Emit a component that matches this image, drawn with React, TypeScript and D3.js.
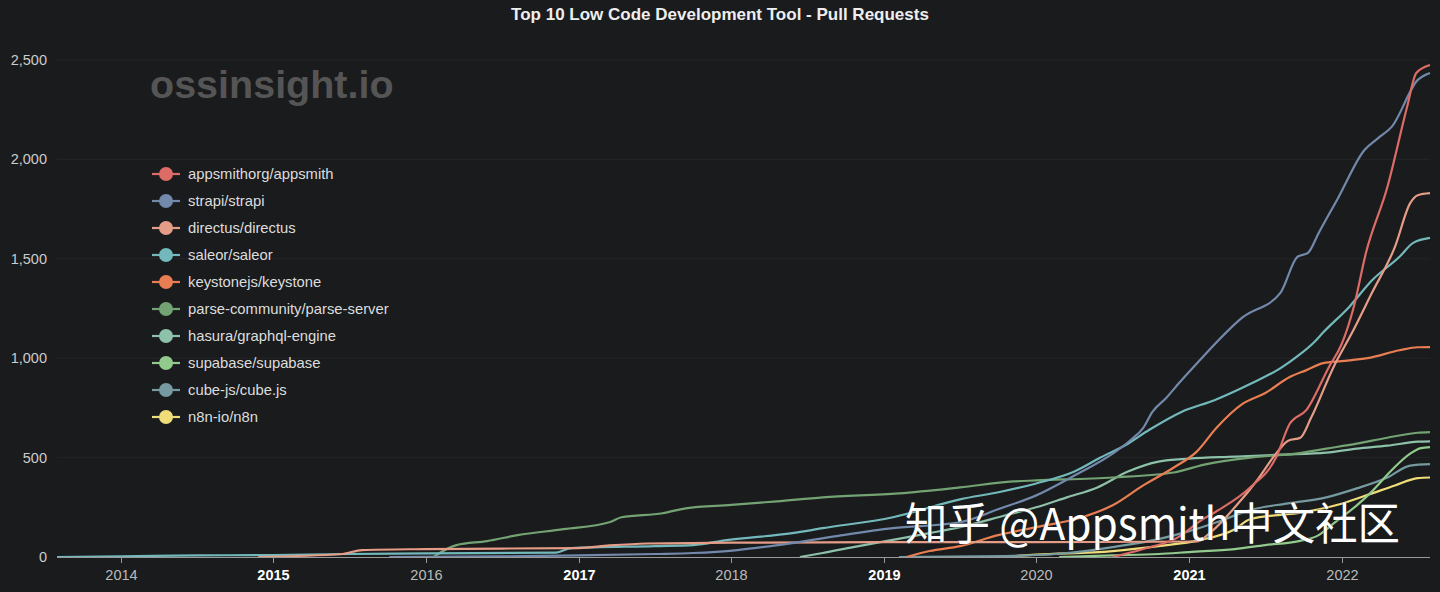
import React from "react";
import * as d3 from "d3";

const W = 1440;
const H = 592;

const TITLE = "Top 10 Low Code Development Tool - Pull Requests";
const REPOS = [
  "appsmithorg/appsmith",
  "strapi/strapi",
  "directus/directus",
  "saleor/saleor",
  "keystonejs/keystone",
  "parse-community/parse-server",
  "hasura/graphql-engine",
  "supabase/supabase",
  "cube-js/cube.js",
  "n8n-io/n8n",
];
const COLORS = ["#dd6b66", "#7289ab", "#e69d87", "#73b9bc", "#ea7e53", "#73a373", "#8dc1a9", "#91ca8c", "#759aa0", "#eedd78"];
const Y_TICKS = [0, 500, 1000, 1500, 2000, 2500];
const X_TICKS = [2014, 2015, 2016, 2017, 2018, 2019, 2020, 2021, 2022];
const BOLD_YEARS = [2015, 2017, 2019, 2021];

// [decimal year, cumulative PRs]
const appsmith: [number, number][] = [
  [2020.5, 0], [2020.7, 40], [2020.93, 100], [2021.07, 180], [2021.18, 230], [2021.4, 350], [2021.57, 500],
  [2021.66, 670], [2021.77, 740], [2021.92, 960], [2022.0, 1070], [2022.08, 1258], [2022.16, 1530],
  [2022.3, 1860], [2022.43, 2265], [2022.49, 2435], [2022.58, 2475],
];
const strapi: [number, number][] = [
  [2015.76, 0], [2016.5, 3], [2017.0, 8], [2017.5, 15], [2017.75, 20], [2018.04, 35], [2018.4, 70],
  [2018.73, 110], [2019.06, 145], [2019.5, 175], [2019.75, 240], [2020.0, 310], [2020.25, 410],
  [2020.5, 520], [2020.62, 590], [2020.7, 650], [2020.76, 730], [2020.85, 800], [2020.94, 880],
  [2021.07, 990], [2021.35, 1205], [2021.6, 1330], [2021.71, 1510], [2021.78, 1530], [2021.85, 1630],
  [2021.98, 1810], [2022.15, 2047], [2022.24, 2107], [2022.33, 2165], [2022.5, 2400], [2022.58, 2435],
];
const directus: [number, number][] = [
  [2014.9, 0], [2015.45, 15], [2015.58, 35], [2016.0, 40], [2017.0, 45], [2017.2, 58], [2017.45, 68],
  [2018.0, 72], [2019.0, 75], [2020.0, 75], [2021.05, 78], [2021.15, 130], [2021.3, 250], [2021.45, 390],
  [2021.57, 520], [2021.65, 585], [2021.73, 600], [2021.8, 700], [2021.95, 960], [2022.07, 1130],
  [2022.2, 1330], [2022.35, 1560], [2022.45, 1780], [2022.5, 1820], [2022.58, 1830],
];
const saleor: [number, number][] = [
  [2013.58, 0], [2014.0, 3], [2014.5, 8], [2015.0, 10], [2015.5, 15], [2016.0, 18], [2016.85, 22],
  [2016.95, 45], [2017.5, 55], [2017.75, 60], [2017.97, 85], [2018.4, 120], [2018.6, 145], [2019.06, 200],
  [2019.5, 290], [2019.76, 327], [2020.0, 370], [2020.25, 430], [2020.42, 500], [2020.6, 570],
  [2020.74, 640], [2020.95, 730], [2021.17, 790], [2021.4, 870], [2021.6, 950], [2021.72, 1015],
  [2021.82, 1080], [2021.88, 1130], [2022.05, 1258], [2022.2, 1392], [2022.38, 1510], [2022.47, 1580],
  [2022.58, 1605],
];
const keystone: [number, number][] = [
  [2019.15, 0], [2019.3, 30], [2019.5, 55], [2019.75, 110], [2020.0, 150], [2020.3, 200], [2020.5, 260],
  [2020.7, 360], [2020.9, 450], [2021.05, 530], [2021.18, 650], [2021.35, 770], [2021.5, 825],
  [2021.66, 905], [2021.77, 940], [2021.88, 975], [2022.0, 985], [2022.17, 1000], [2022.38, 1040],
  [2022.5, 1055], [2022.58, 1056],
];
const parseServer: [number, number][] = [
  [2016.05, 0], [2016.1, 25], [2016.2, 60], [2016.4, 80], [2016.6, 110], [2016.9, 140], [2017.2, 175],
  [2017.28, 200], [2017.55, 220], [2017.7, 245], [2018.0, 262], [2018.3, 280], [2018.6, 300],
  [2019.1, 320], [2019.5, 350], [2019.85, 380], [2020.0, 385], [2020.5, 400], [2020.9, 425],
  [2021.1, 465], [2021.4, 500], [2021.7, 520], [2021.9, 545], [2022.1, 570], [2022.3, 600],
  [2022.5, 625], [2022.58, 628],
];
const hasura: [number, number][] = [
  [2018.45, 0], [2018.6, 20], [2018.8, 50], [2019.05, 85], [2019.3, 120], [2019.5, 150], [2019.8, 210],
  [2020.0, 250], [2020.2, 300], [2020.4, 350], [2020.6, 430], [2020.8, 480], [2021.0, 495], [2021.3, 505],
  [2021.6, 515], [2021.9, 525], [2022.1, 545], [2022.3, 560], [2022.5, 580], [2022.58, 582],
];
const supabase: [number, number][] = [
  [2020.15, 0], [2020.5, 8], [2020.8, 15], [2021.0, 25], [2021.3, 40], [2021.5, 60], [2021.72, 80],
  [2021.85, 110], [2021.95, 170], [2022.1, 260], [2022.2, 330], [2022.32, 430], [2022.45, 520],
  [2022.52, 548], [2022.58, 553],
];
const cubejs: [number, number][] = [
  [2019.1, 0], [2019.8, 5], [2020.2, 20], [2020.5, 50], [2020.8, 90], [2021.0, 130], [2021.2, 180],
  [2021.4, 236], [2021.65, 270], [2021.9, 300], [2022.1, 345], [2022.3, 400], [2022.45, 460], [2022.58, 467],
];
const n8n: [number, number][] = [
  [2019.75, 0], [2020.0, 12], [2020.5, 30], [2020.8, 55], [2021.07, 85], [2021.3, 140], [2021.4, 190],
  [2021.75, 225], [2022.0, 268], [2022.2, 320], [2022.35, 360], [2022.5, 397], [2022.58, 400],
];

const SERIES = [appsmith, strapi, directus, saleor, keystone, parseServer, hasura, supabase, cubejs, n8n];

const toDate = (y: number) => {
  const yr = Math.floor(y);
  const start = Date.UTC(yr, 0, 1);
  const end = Date.UTC(yr + 1, 0, 1);
  return new Date(start + (y - yr) * (end - start));
};

export default function App() {
  const x = d3.scaleUtc().domain([toDate(2013.58), toDate(2022.58)]).range([57, 1430]);
  const y = d3.scaleLinear().domain([0, 2500]).range([557, 60]);
  const line = d3
    .line<[number, number]>()
    .x((d) => x(toDate(d[0])))
    .y((d) => y(d[1]))
    .curve(d3.curveMonotoneX);
  const fmt = d3.format(",");
  const font = "'Liberation Sans', Arial, Helvetica, sans-serif";
  const order = d3.range(SERIES.length).reverse();

  return (
    <svg width={W} height={H} style={{ display: "block", position: "absolute", left: 0, top: 0, background: "#1a1b1d" }} fontFamily={font}>
      <rect x={0} y={0} width={W} height={H} fill="#1a1b1d" />
      <text x={720} y={20} textAnchor="middle" fill="#eeeeee" fontSize={17} fontWeight="bold">{TITLE}</text>

      {Y_TICKS.map((t) => (
        <g key={t}>
          {t > 0 && <line x1={57} x2={1430} y1={y(t)} y2={y(t)} stroke="#242528" strokeWidth={1} />}
          <text x={47} y={y(t) + 5} textAnchor="end" fill="#cccccc" fontSize={14.5}>{fmt(t)}</text>
        </g>
      ))}

      <text x={150} y={98} fill="#555555" fontSize={39.5} fontWeight="bold">ossinsight.io</text>

      {order.map((i) => (
        <path key={REPOS[i]} d={line(SERIES[i]) || ""} fill="none" stroke={COLORS[i]} strokeWidth={2.2} />
      ))}

      <line x1={57} x2={1430} y1={557.5} y2={557.5} stroke="#9a9a9a" strokeWidth={1} />
      {X_TICKS.map((t) => {
        const xx = Math.round(x(toDate(t))) + 0.5;
        const bold = BOLD_YEARS.includes(t);
        return (
          <g key={t}>
            <line x1={xx} x2={xx} y1={557} y2={563} stroke="#9a9a9a" strokeWidth={1} />
            <text x={xx} y={580} textAnchor="middle" fontSize={14.5} fill={bold ? "#ffffff" : "#bbbbbb"} fontWeight={bold ? "bold" : "normal"}>{t}</text>
          </g>
        );
      })}

      {REPOS.map((name, i) => {
        const cy = 174 + i * 27;
        return (
          <g key={name}>
            <line x1={152} x2={180} y1={cy} y2={cy} stroke={COLORS[i]} strokeWidth={2.2} />
            <circle cx={166} cy={cy} r={7} fill={COLORS[i]} />
            <text x={188} y={cy + 5} fill="#dddddd" fontSize={14.8}>{name}</text>
          </g>
        );
      })}

      <text x={905} y={540} fill="#ffffff" fontSize={44} fontFamily="'Noto Sans CJK SC', sans-serif" textLength={495} lengthAdjust="spacingAndGlyphs" stroke="#1a1b1d" strokeWidth={0.5} paintOrder="stroke">知乎 @Appsmith中文社区</text>
    </svg>
  );
}
